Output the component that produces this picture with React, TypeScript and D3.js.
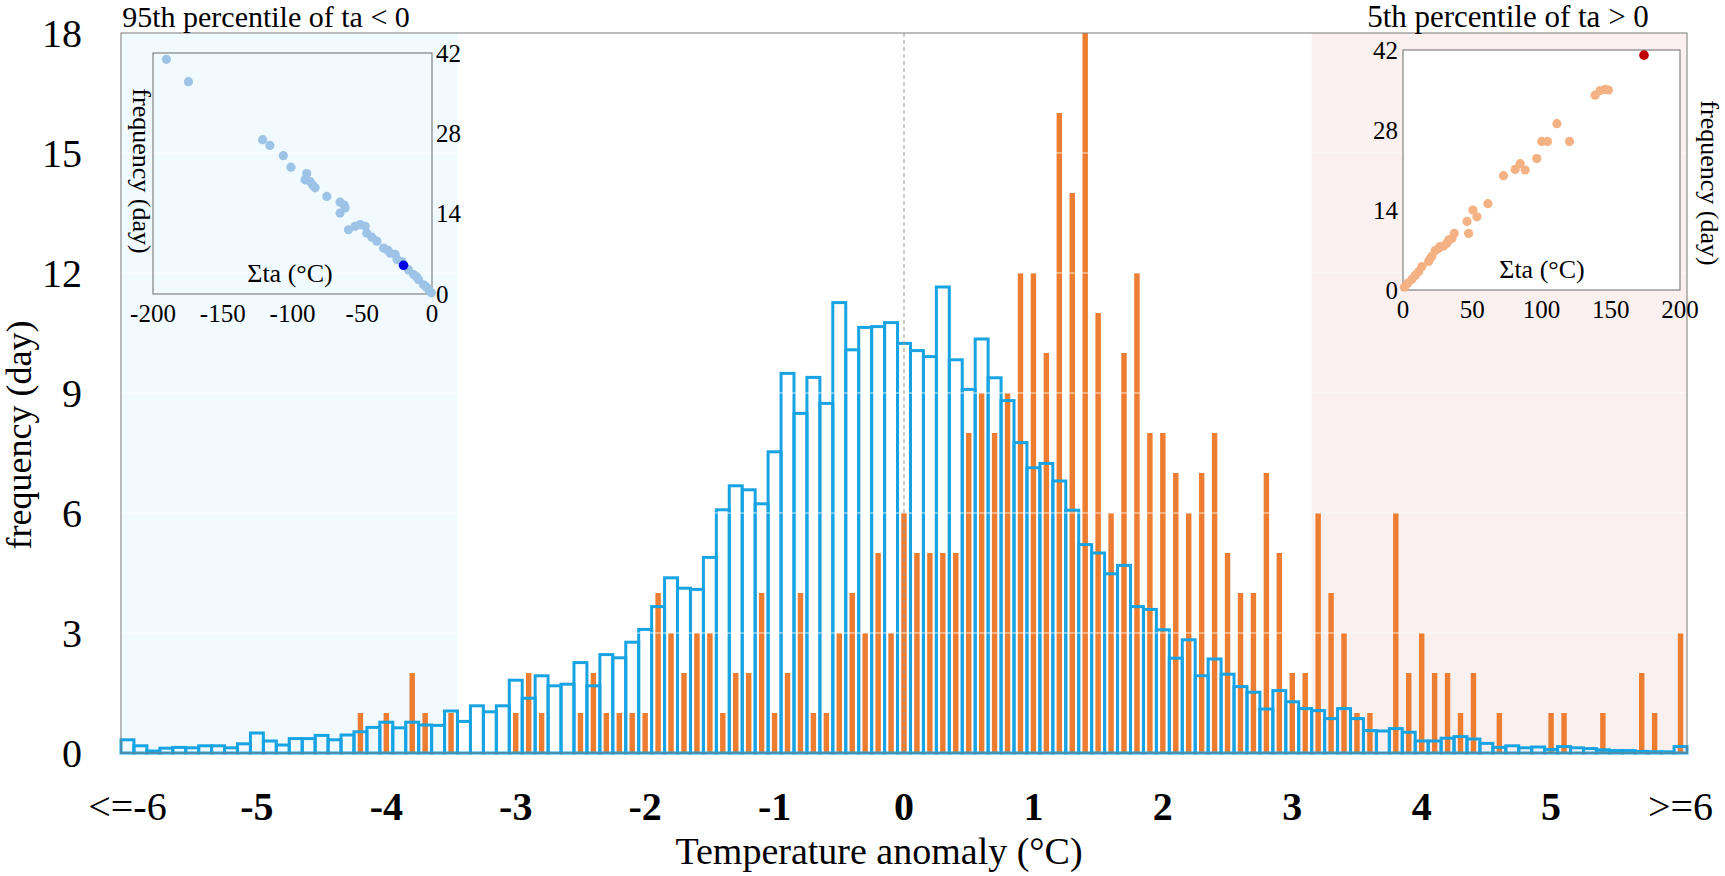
import React, { useRef, useEffect } from 'react';
import * as d3 from 'd3';

// Canvas
const W = 1725;
const H = 876;
const plot = { left: 121, right: 1687, top: 33, bottom: 753 };
const FONT = "'Liberation Serif', 'Times New Roman', serif";

// Categories: temperature anomaly bins (°C), -6 .. 6 in 0.1 steps
const categories: number[] = d3.range(121).map((i) => Math.round((-6 + i * 0.1) * 10) / 10);

// Climatological frequency (outlined blue bars), one per category
const blueFreq = [
  0.33, 0.18, 0.05, 0.12, 0.14, 0.13, 0.18, 0.18, 0.13, 0.23,
  0.5, 0.3, 0.2, 0.36, 0.36, 0.44, 0.33, 0.45, 0.53, 0.64,
  0.77, 0.63, 0.77, 0.7, 0.69, 1.05, 0.79, 1.18, 1.03, 1.18,
  1.82, 1.37, 1.93, 1.68, 1.72, 2.26, 1.68, 2.46, 2.38, 2.77,
  3.09, 3.66, 4.38, 4.12, 4.09, 4.89, 6.08, 6.68, 6.58, 6.23,
  7.53, 9.49, 8.49, 9.39, 8.74, 11.26, 10.08, 10.64, 10.66, 10.76,
  10.24, 10.06, 9.91, 11.65, 9.83, 9.09, 10.35, 9.38, 8.81, 7.76,
  7.13, 7.24, 6.8, 6.07, 5.21, 5.0, 4.48, 4.69, 3.66, 3.59,
  3.08, 2.37, 2.83, 1.93, 2.35, 1.97, 1.66, 1.52, 1.1, 1.56,
  1.28, 1.11, 1.06, 0.86, 1.11, 0.86, 0.56, 0.55, 0.61, 0.52,
  0.3, 0.3, 0.37, 0.41, 0.35, 0.24, 0.14, 0.18, 0.13, 0.15,
  0.09, 0.16, 0.13, 0.11, 0.08, 0.06, 0.06, 0.04, 0.03, 0.03,
  0.16,
];

// Frequency for the current year (orange bars), one per category
const orangeFreq = [
  0, 0, 0, 0, 0, 0, 0, 0, 0, 0,
  0, 0, 0, 0, 0, 0, 0, 0, 1, 0,
  1, 0, 2, 1, 0, 1, 0, 0, 0, 0,
  1, 2, 1, 0, 0, 1, 2, 1, 1, 1,
  1, 4, 3, 2, 3, 3, 1, 2, 2, 4,
  1, 2, 4, 1, 1, 3, 4, 3, 5, 3,
  6, 5, 5, 5, 5, 8, 9, 8, 9, 12,
  12, 10, 16, 14, 18, 11, 6, 10, 12, 8,
  8, 7, 6, 7, 8, 5, 4, 4, 7, 5,
  2, 2, 6, 4, 3, 1, 1, 0, 6, 2,
  3, 2, 2, 1, 2, 0, 1, 0, 0, 0,
  1, 1, 0, 0, 1, 0, 0, 2, 1, 0,
  3,
];

// Percentile thresholds (shaded regions)
const negPercentile = -3.5;
const posPercentile = 3.2;

const yTicks = [0, 3, 6, 9, 12, 15, 18];
const xTickValues = [-6, -5, -4, -3, -2, -1, 0, 1, 2, 3, 4, 5, 6];
const xTickLabels = ['<=-6', '-5', '-4', '-3', '-2', '-1', '0', '1', '2', '3', '4', '5', '>=6'];

// Inset: sum of negative anomalies vs frequency
const negSum = [
  -190.4, -174.6, -121.4, -116.2, -106.6, -101.1, -91.0, -89.8, -87.4, -85.5, -83.8,
  -75.4, -65.9, -65.9, -63.0, -62.3, -59.9, -55.1, -51.5, -47.9, -46.7, -43.1, -39.5,
  -34.7, -31.5, -29.9, -26.3, -25.1, -21.5, -16.8, -13.2, -11.0, -9.6, -6.0, -4.0, -2.4, -0.5,
];
const negFreq = [
  40.9, 37.0, 26.9, 25.9, 24.1, 22.1, 19.9, 21.0, 19.6, 19.0, 18.5,
  17.0, 16.0, 14.1, 15.5, 15.0, 11.2, 11.8, 12.1, 11.8, 10.6, 9.9, 9.2,
  8.0, 7.6, 7.1, 6.9, 6.0, 5.6, 4.2, 3.4, 3.0, 2.5, 1.6, 1.2, 0.8, 0.2,
];
const negCurrent = [-20.4, 5.0];

// Inset: sum of positive anomalies vs frequency
const posSum = [
  138.7, 142.3, 145.9, 148.3, 111.1, 120.2, 100.2, 104.3, 96.6, 84.6, 81.0, 88.2,
  72.6, 61.3, 50.5, 53.4, 46.2, 47.4, 37.0, 35.3, 32.9, 31.7, 29.3, 26.9, 25.7,
  23.3, 20.9, 19.7, 18.5, 13.7, 11.3, 8.9, 6.5, 3.4, 1.0,
];
const posFreq = [
  34.1, 34.9, 35.1, 35.0, 29.1, 26.0, 26.0, 26.0, 23.0, 22.1, 21.1, 21.0,
  20.0, 15.1, 14.0, 12.8, 12.0, 9.9, 9.9, 9.0, 8.75, 8.2, 7.7, 7.6, 7.3,
  6.9, 5.95, 5.5, 5.0, 4.1, 3.2, 2.6, 1.9, 1.2, 0.5,
];
const posCurrent = [174.0, 41.1];

const insetXTicksNeg = [-200, -150, -100, -50, 0];
const insetXTicksPos = [0, 50, 100, 150, 200];
const insetYTicks = [0, 14, 28, 42];

function drawInset(root: any, o: any) {
  const g = root.append('g').attr('font-family', FONT);
  const sx = d3.scaleLinear().domain(o.xDomain).range([o.x0, o.x1]);
  const sy = d3.scaleLinear().domain([0, 42]).range([o.y1, o.y0]);

  g.append('rect')
    .attr('x', o.x0)
    .attr('y', o.y0)
    .attr('width', o.x1 - o.x0)
    .attr('height', o.y1 - o.y0)
    .attr('fill', o.bg)
    .attr('stroke', '#6b6b6b')
    .attr('stroke-width', 1);

  g.selectAll('.pt')
    .data(d3.zip(o.xs, o.ys))
    .join('circle')
    .attr('cx', (d) => sx(d[0]))
    .attr('cy', (d) => sy(d[1]))
    .attr('r', 4.6)
    .attr('fill', o.color);

  g.append('circle')
    .attr('cx', sx(o.current[0]))
    .attr('cy', sy(o.current[1]))
    .attr('r', 4.8)
    .attr('fill', o.currentColor);

  // x tick labels
  g.selectAll('.xt')
    .data(o.xTicks)
    .join('text')
    .attr('x', (d) => sx(d))
    .attr('y', o.y1 + 28)
    .attr('text-anchor', 'middle')
    .attr('font-size', 25)
    .text((d) => `${d}`);

  // y tick labels
  const yRight = o.ySide === 'right';
  g.selectAll('.yt')
    .data(insetYTicks)
    .join('text')
    .attr('x', yRight ? o.x1 + 4 : o.x0 - 5)
    .attr('y', (d) => sy(d))
    .attr('dy', '0.35em')
    .attr('text-anchor', yRight ? 'start' : 'end')
    .attr('font-size', 25)
    .text((d) => `${d}`);

  // rotated y label
  g.append('text')
    .attr('transform', `translate(${o.yLabelX}, ${o.yLabelY}) rotate(90)`)
    .attr('text-anchor', 'middle')
    .attr('font-size', 26)
    .text('frequency (day)');

  // sum label inside box
  g.append('text')
    .attr('x', o.sumLabelX)
    .attr('y', o.y1 - 12)
    .attr('text-anchor', 'middle')
    .attr('font-size', 26)
    .text('Σta (°C)');

  // title
  g.append('text')
    .attr('x', o.titleX)
    .attr('y', 27)
    .attr('text-anchor', 'middle')
    .attr('font-size', o.titleSize)
    .text(o.title);
}

export default function App() {
  const svgRef = useRef(null);

  useEffect(() => {
    document.body.style.margin = '0';
    const svg = d3.select(svgRef.current).attr('width', W).attr('height', H);
    svg.selectAll('*').remove();

    // Scales
    const x = d3.scaleBand<number>().domain(categories).range([plot.left, plot.right]);
    const bw = x.bandwidth();
    const y = d3.scaleLinear().domain([0, 18]).range([plot.bottom, plot.top]);

    svg.append('rect').attr('width', W).attr('height', H).attr('fill', '#ffffff');

    // Shaded percentile regions
    svg
      .append('rect')
      .attr('x', plot.left)
      .attr('y', plot.top)
      .attr('width', (x(negPercentile) as number) + bw - plot.left)
      .attr('height', plot.bottom - plot.top)
      .attr('fill', '#f1fafe');
    svg
      .append('rect')
      .attr('x', x(posPercentile) as number)
      .attr('y', plot.top)
      .attr('width', plot.right - (x(posPercentile) as number))
      .attr('height', plot.bottom - plot.top)
      .attr('fill', '#fbf0f0');

    const data = categories.map((c, i) => ({ c, blue: blueFreq[i], orange: orangeFreq[i] }));

    // Orange bars
    const ow = bw * 0.42;
    svg
      .append('g')
      .selectAll('rect')
      .data(data.filter((d) => d.orange > 0))
      .join('rect')
      .attr('x', (d) => (x(d.c) as number) + (bw - ow) / 2)
      .attr('y', (d) => y(d.orange))
      .attr('width', ow)
      .attr('height', (d) => y(0) - y(d.orange))
      .attr('fill', '#ed7d31');

    // Blue outlined bars
    svg
      .append('g')
      .selectAll('rect')
      .data(data)
      .join('rect')
      .attr('x', (d) => x(d.c) as number)
      .attr('y', (d) => y(d.blue))
      .attr('width', bw)
      .attr('height', (d) => y(0) - y(d.blue))
      .attr('fill', 'none')
      .attr('stroke', '#18a3e3')
      .attr('stroke-width', 3);

    // faint gridlines
    svg
      .append('g')
      .selectAll('line')
      .data(yTicks.slice(1, -1))
      .join('line')
      .attr('x1', plot.left)
      .attr('x2', plot.right)
      .attr('y1', (d) => y(d))
      .attr('y2', (d) => y(d))
      .attr('stroke', 'rgba(255,255,255,0.55)')
      .attr('stroke-width', 1.5);

    // zero dashed line
    const zx = (x(0) as number) + bw / 2;
    svg
      .append('line')
      .attr('x1', zx)
      .attr('x2', zx)
      .attr('y1', plot.top)
      .attr('y2', plot.bottom)
      .attr('stroke', '#9a9a9a')
      .attr('stroke-width', 1)
      .attr('stroke-dasharray', '4,3');

    // Frame
    svg
      .append('rect')
      .attr('x', plot.left)
      .attr('y', plot.top)
      .attr('width', plot.right - plot.left)
      .attr('height', plot.bottom - plot.top)
      .attr('fill', 'none')
      .attr('stroke', '#7a7a7a')
      .attr('stroke-width', 1);

    // Y tick labels
    svg
      .append('g')
      .selectAll('text')
      .data(yTicks)
      .join('text')
      .attr('x', 82)
      .attr('y', (d) => y(d))
      .attr('dy', '0.35em')
      .attr('text-anchor', 'end')
      .attr('font-family', FONT)
      .attr('font-size', 40)
      .text((d) => `${d}`);

    // X tick labels
    svg
      .append('g')
      .selectAll('text')
      .data(xTickValues)
      .join('text')
      .attr('x', (d) => (x(d) as number) + bw / 2)
      .attr('y', 820)
      .attr('text-anchor', 'middle')
      .attr('font-family', FONT)
      .attr('font-size', 40)
      .attr('font-weight', (d, i) => (i === 0 || i === xTickValues.length - 1 ? 'normal' : 'bold'))
      .text((d, i) => xTickLabels[i]);

    // Axis titles
    svg
      .append('text')
      .attr('x', 879)
      .attr('y', 864)
      .attr('text-anchor', 'middle')
      .attr('font-family', FONT)
      .attr('font-size', 38)
      .text('Temperature anomaly (°C)');
    svg
      .append('text')
      .attr('transform', 'translate(31, 435) rotate(-90)')
      .attr('text-anchor', 'middle')
      .attr('font-family', FONT)
      .attr('font-size', 36)
      .text('frequency (day)');

    // Insets
    drawInset(svg, {
      x0: 153, x1: 432, y0: 53, y1: 294,
      xDomain: [-200, 0], xTicks: insetXTicksNeg, ySide: 'right',
      xs: negSum, ys: negFreq, current: negCurrent,
      color: '#9dc3e6', currentColor: '#0000e6', bg: 'none',
      yLabelX: 133, yLabelY: 171, sumLabelX: 290, titleX: 266, titleSize: 30,
      title: '95th percentile of ta < 0',
    });
    drawInset(svg, {
      x0: 1403, x1: 1680, y0: 50, y1: 290,
      xDomain: [0, 200], xTicks: insetXTicksPos, ySide: 'left',
      xs: posSum, ys: posFreq, current: posCurrent,
      color: '#f4b183', currentColor: '#c00000', bg: '#ffffff',
      yLabelX: 1701, yLabelY: 183, sumLabelX: 1542, titleX: 1508, titleSize: 31,
      title: '5th percentile of ta > 0',
    });
  }, []);

  return (
    <div style={{ position: 'absolute', left: 0, top: 0 }}>
      <svg ref={svgRef} />
    </div>
  );
}
